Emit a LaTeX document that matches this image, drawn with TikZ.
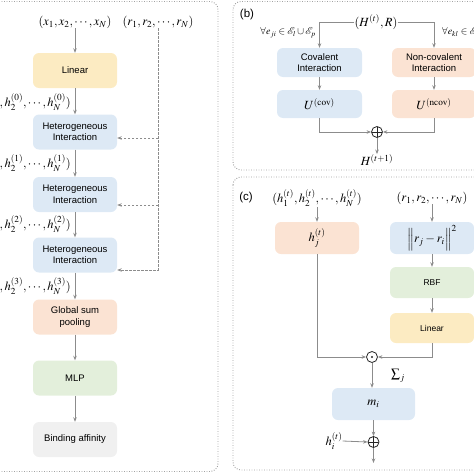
\documentclass[tikz,border=0pt]{standalone}
\usepackage{mathptmx}
\usepackage[no-math]{fontspec}
\setmainfont{Liberation Sans}
\usetikzlibrary{arrows.meta}
\definecolor{cyel}{HTML}{FCEBC2}
\definecolor{cblu}{HTML}{DDE9F5}
\definecolor{cpea}{HTML}{FBE3D3}
\definecolor{cgre}{HTML}{E3EFDB}
\definecolor{cgry}{HTML}{F0F0F0}
\definecolor{cline}{HTML}{8C8C8C}
\definecolor{cframe}{HTML}{A0A0A0}
\begin{document}
\begin{tikzpicture}[x=1pt,y=-1pt,
  box/.style={rounded corners=6pt, minimum width=84pt, minimum height=35pt, inner sep=0pt, align=center, font=\fontsize{9.5}{11.5}\selectfont},
  bbox/.style={box, minimum height=29pt},
  arr/.style={draw=cline, line width=0.9pt, -{Stealth[length=4.5pt,width=3.5pt]}},
  dasharr/.style={draw=cline, line width=0.8pt, dash pattern=on 2.5pt off 1.5pt, -{Stealth[length=4.5pt,width=3.5pt]}},
  frame/.style={draw=cframe, line width=0.9pt, dash pattern=on 0.9pt off 1.6pt, rounded corners=8pt},
  mlab/.style={inner sep=0pt, font=\fontsize{12.5}{14}\selectfont},
  slab/.style={inner sep=0pt, font=\fontsize{10}{12}\selectfont},
  opl/.style={circle, draw=black!85, line width=0.8pt, minimum size=11pt, inner sep=0pt,
    path picture={\draw[black!85, line width=0.8pt] (path picture bounding box.north) -- (path picture bounding box.south) (path picture bounding box.west) -- (path picture bounding box.east);}},
  odt/.style={circle, draw=black!85, line width=0.8pt, minimum size=11pt, inner sep=0pt,
    path picture={\fill[black!85] (path picture bounding box.center) circle (1.2pt);}}
]
\useasboundingbox (0,0) rectangle (474,474);
% frames
\draw[frame] (-20,1.5) rectangle (218,471.5);
\draw[frame] (233,1.5) rectangle (495,170);
\draw[frame] (233,177) rectangle (495,470);

% ---------- panel a ----------
\node[mlab] (xs) at (75,22) {$(x_1,x_2,\cdots,x_N)$};
\node[mlab] (rs) at (158,22) {$(r_1,r_2,\cdots,r_N)$};
\node[box, fill=cyel] (lin) at (75,70.5) {Linear};
\node[box, fill=cblu] (hi1) at (75,132) {Heterogeneous\\Interaction};
\node[box, fill=cblu] (hi2) at (75,194.5) {Heterogeneous\\Interaction};
\node[box, fill=cblu] (hi3) at (75,255) {Heterogeneous\\Interaction};
\node[box, fill=cpea] (gsp) at (75,317) {Global sum\\pooling};
\node[box, fill=cgre] (mlp) at (75,378) {MLP};
\node[box, fill=cgry] (ba) at (75,439.5) {Binding affinity};
\node[mlab, anchor=east] (h0) at (71,102) {$(h_1^{(0)},h_2^{(0)},\cdots,h_N^{(0)})$};
\node[mlab, anchor=east] (h1) at (71,163) {$(h_1^{(1)},h_2^{(1)},\cdots,h_N^{(1)})$};
\node[mlab, anchor=east] (h2) at (71,224) {$(h_1^{(2)},h_2^{(2)},\cdots,h_N^{(2)})$};
\node[mlab, anchor=east] (h3) at (71,286) {$(h_1^{(3)},h_2^{(3)},\cdots,h_N^{(3)})$};
\draw[arr] (xs.south) -- (lin.north);
\draw[arr] (lin) -- (hi1);
\draw[arr] (hi1) -- (hi2);
\draw[arr] (hi2) -- (hi3);
\draw[arr] (hi3) -- (gsp);
\draw[arr] (gsp) -- (mlp);
\draw[arr] (mlp) -- (ba);
\coordinate (d1) at (158,138);
\coordinate (d2) at (158,205);
\coordinate (d3) at (158,270);
\draw[dasharr] (rs.south) -- (d3) -- (hi3.east |- d3);
\draw[dasharr] (d1) -- (hi1.east |- d1);
\draw[dasharr] (d2) -- (hi2.east |- d2);

% ---------- panel b ----------
\node[inner sep=0pt, font=\fontsize{11.5}{13}\selectfont] (lb) at (247,15) {(b)};
\node[mlab] (Ht) at (376,22) {$(H^{(t)},R)$};
\node[bbox, fill=cblu, minimum width=85pt] (cov) at (319.5,62.5) {Covalent\\Interaction};
\node[bbox, fill=cpea] (ncov) at (434,62.5) {Non-covalent\\Interaction};
\node[bbox, fill=cblu, minimum width=85pt, minimum height=28pt] (ucov) at (319.5,104) {\fontsize{12.5}{14}\selectfont$U^{(\mathrm{cov})}$};
\node[bbox, fill=cpea, minimum height=28pt] (uncov) at (434,104) {\fontsize{12.5}{14}\selectfont$U^{(\mathrm{ncov})}$};
\node[slab, anchor=east] (fa1) at (316,33) {$\forall e_{ji}\in\mathcal{E}_l\cup\mathcal{E}_p$};
\node[slab, anchor=west] (fa2) at (442,33) {$\forall e_{kl}\in\mathcal{E}_{lp}$};
\node[opl] (op1) at (377,132) {};
\node[mlab] (Hn) at (377,160) {$H^{(t+1)}$};
\draw[arr, line width=0.8pt] (Ht.west) -| (cov.north);
\draw[arr, line width=0.8pt] (Ht.east) -| (ncov.north);
\draw[arr, line width=0.8pt] (cov) -- (ucov);
\draw[arr, line width=0.8pt] (ncov) -- (uncov);
\draw[arr, line width=0.8pt] (ucov.south) |- (op1.west);
\draw[arr, line width=0.8pt] (uncov.south) |- (op1.east);
\draw[arr, line width=0.8pt] (op1.south) -- (Hn.north);

% ---------- panel c ----------
\node[inner sep=0pt, font=\fontsize{11.5}{13}\selectfont] (lc) at (246,198) {(c)};
\node[mlab] (hs) at (317,198) {$(h_1^{(t)},h_2^{(t)},\cdots,h_N^{(t)})$};
\node[mlab] (rs2) at (432,198) {$(r_1,r_2,\cdots,r_N)$};
\node[box, fill=cpea, minimum height=32pt] (hj) at (317,238) {\fontsize{12.5}{14}\selectfont$h_j^{(t)}$};
\node[box, fill=cblu, minimum height=32pt] (rr) at (432,238) {\fontsize{12.5}{14}\selectfont$\Big\|r_j-r_i\Big\|^2$};
\node[box, fill=cgre, minimum height=31pt, font=\fontsize{8.5}{10}\selectfont] (rbf) at (432,282.5) {RBF};
\node[box, fill=cyel, minimum height=30pt, font=\fontsize{8.5}{10}\selectfont] (lin2) at (432,328) {Linear};
\node[odt] (od) at (372,357) {};
\node[box, fill=cblu, minimum width=83pt, minimum height=32pt] (mi) at (373.5,404) {\fontsize{12.5}{14}\selectfont$m_i$};
\node[mlab] (sj) at (398,376) {$\sum_j$};
\node[opl] (op2) at (373.5,442) {};
\node[mlab] (hi) at (334,441) {$h_i^{(t)}$};
\coordinate (oc) at (373.5,463);
\draw[arr, line width=0.8pt] (hs.south) -- (hj.north);
\draw[arr, line width=0.8pt] (rs2.south) -- (rr.north);
\draw[arr, line width=0.8pt] (rr) -- (rbf);
\draw[arr, line width=0.8pt] (rbf) -- (lin2);
\draw[arr, line width=0.8pt] (hj.south) |- (od.west);
\draw[arr, line width=0.8pt] (lin2.south) |- (od.east);
\draw[arr, line width=0.8pt] (od.south) -- (od.south |- mi.north);
\draw[arr, line width=0.8pt] (mi.south) -- (op2.north);
\draw[arr, line width=0.8pt] (hi.east) -- (op2.west);
\draw[arr, line width=0.8pt] (op2.south) -- (oc);
\end{tikzpicture}
\end{document}
